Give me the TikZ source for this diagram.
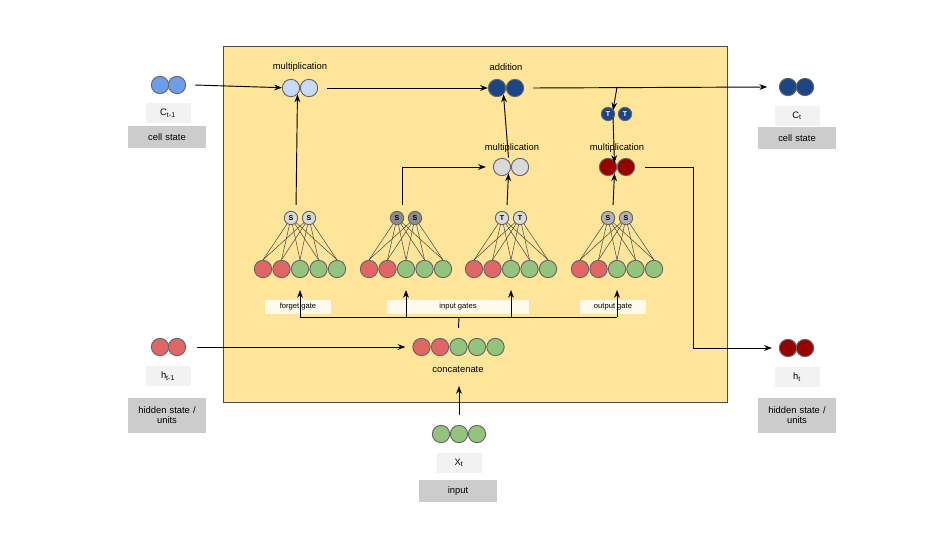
\documentclass[tikz,border=0pt]{standalone}
\usepackage{fontspec}
\setmainfont{Liberation Sans}
\usetikzlibrary{arrows.meta}
\definecolor{boxyellow}{HTML}{FFE599}
\definecolor{unitred}{HTML}{E06666}
\definecolor{unitgreen}{HTML}{93C47D}
\definecolor{lightblue}{HTML}{6D9EEB}
\definecolor{paleblue}{HTML}{C9DAF8}
\definecolor{darkblue}{HTML}{1C4587}
\definecolor{darkred}{HTML}{990000}
\begin{document}
\begin{tikzpicture}[x=0.03cm, y=-0.03cm, >=Stealth,
    unit/.style = {circle, draw=black!60, thick, inner sep=0pt, minimum size=0.52cm},
    small unit/.style = {circle, draw=black!60, thick, inner sep=0pt, minimum size=0.4cm, font=\fontsize{6}{6}\selectfont\bfseries},
    lbl/.style = {font=\fontsize{8}{9}\selectfont},
    tag/.style = {fill=black!5, minimum width=1.35cm, minimum height=0.62cm, font=\fontsize{8}{9}\selectfont},
    caption/.style = {fill=black!20, text width=2.1cm, align=center, minimum height=0.66cm, font=\fontsize{8}{9}\selectfont},
    gatetag/.style = {fill=white!80!boxyellow, minimum height=0.36cm, font=\fontsize{6.5}{7}\selectfont},
    arr/.style = {->, thick}
]
    \useasboundingbox (0,0) rectangle (930,535);
    \fill[boxyellow] (223,46) rectangle (727,402);
    \draw[black!70, thick] (223,46) rectangle (727,402);

    % cell state in
    \node[unit, fill=lightblue] (cp1) at (160,85) {};
    \node[unit, fill=lightblue] (cp2) at (177,85) {};
    \node[tag] (cplbl) at (168,113) {C\textsubscript{t-1}};
    \node[caption] (cpcap) at (167,137) {cell state};

    % hidden state in
    \node[unit, fill=unitred] (hp1) at (160,347) {};
    \node[unit, fill=unitred] (hp2) at (177,347) {};
    \node[tag] (hplbl) at (168,376) {h\textsubscript{t-1}};
    \node[caption, minimum height=1.05cm] (hpcap) at (167,415) {hidden state /\\units};

    % input
    \node[unit, fill=unitgreen] (x1) at (441,434) {};
    \node[unit, fill=unitgreen] (x2) at (459,434) {};
    \node[unit, fill=unitgreen] (x3) at (477,434) {};
    \node[tag] (xlbl) at (459,463) {X\textsubscript{t}};
    \node[caption] (xcap) at (458,491) {input};

    % outputs
    \node[unit, fill=darkblue] (c1) at (788,87) {};
    \node[unit, fill=darkblue] (c2) at (805,87) {};
    \node[tag] (clbl) at (797,116) {C\textsubscript{t}};
    \node[caption] (ccap) at (797,138) {cell state};
    \node[unit, fill=darkred] (h1) at (788,348) {};
    \node[unit, fill=darkred] (h2) at (805,348) {};
    \node[tag] (hlbl) at (797,377) {h\textsubscript{t}};
    \node[caption, minimum height=1.05cm] (hcap) at (797,415) {hidden state /\\units};

    % concatenation
    \foreach \i/\c in {1/unitred,2/unitred,3/unitgreen,4/unitgreen,5/unitgreen}
        \node[unit, fill=\c] (cat\i) at ({403+18.5*\i},347) {};
    \node[lbl] (catlbl) at (458,370) {concatenate};

    % gates
    \foreach \g/\cx/\sym/\shade in {f/300/S/black!15, i/406/S/black!45, t/511/T/black!15, o/617/S/black!30} {
        \foreach \i/\c in {1/unitred,2/unitred,3/unitgreen,4/unitgreen,5/unitgreen}
            \node[unit, fill=\c] (\g b\i) at ({\cx+18.5*(\i-3)},269) {};
        \node[small unit, fill=\shade] (\g s1) at ({\cx-9},218) {\sym};
        \node[small unit, fill=\shade] (\g s2) at ({\cx+9},218) {\sym};
        \foreach \s in {1,2}
            \foreach \i in {1,...,5}
                \draw[black!75] (\g s\s) -- (\g b\i.north);
        \coordinate (\g in) at (\cx,317);
    }
    \node[gatetag, minimum width=2cm] (ftag) at (298,307) {forget gate};
    \node[gatetag, minimum width=4.25cm] (itag) at (458,307) {input gates};
    \node[gatetag, minimum width=2cm] (otag) at (613,307) {output gate};

    % pointwise operations
    \node[unit, fill=paleblue] (m1) at (291,88) {};
    \node[unit, fill=paleblue] (m2) at (309,88) {};
    \node[lbl] at (300,67) {multiplication};
    \node[unit, fill=darkblue] (a1) at (497,88) {};
    \node[unit, fill=darkblue] (a2) at (515,88) {};
    \node[lbl] at (506,67) {addition};
    \node[unit, fill=black!15] (g1) at (502,167) {};
    \node[unit, fill=black!15] (g2) at (520,167) {};
    \node[lbl] at (512,148) {multiplication};
    \node[unit, fill=darkred] (r1) at (608,167) {};
    \node[unit, fill=darkred] (r2) at (626,167) {};
    \node[lbl] at (617,148) {multiplication};
    \node[small unit, fill=darkblue, text=white] (tt1) at (608,114) {T};
    \node[small unit, fill=darkblue, text=white] (tt2) at (625,114) {T};

    % connections
    \draw[arr] (cp2) ++(18,0) -- (m1);
    \draw[arr] (m2) ++(18,0) -- (a1);
    \draw[arr] (a2) ++(18,0) -- ([xshift=-10]c1.west);
    \draw[arr] (617,87) -- ([yshift=-1]tt1.north east);
    \draw[arr] ([yshift=1]tt1.south east) -- ([yshift=-2]r1.north east);
    \draw[arr] (hp2) ++(20,0) -- ([xshift=-6]cat1.west);
    \draw[arr] (x2.north) ++(0,-10) -- (459,386);
    \draw[thick] (cat3.north) ++(0,-10) -- (459,317);
    \draw[thick] (fin) -- (oin);
    \foreach \g in {f,i,t,o}
        \draw[arr] (\g in) -- ++(0,-27);
    \draw[arr] (fs1.north east) ++(0,-8) -- (m1.south east);
    \draw[arr] (is1.north east) ++(0,-8) |- ([xshift=-6]g1.west);
    \draw[arr] (ts1.north east) ++(0,-8) -- (g1.south east);
    \draw[arr] (os1.north east) ++(0,-8) -- (r1.south east);
    \draw[arr] (g1.north east) ++(0,-3) -- (a1.south east);
    \draw[arr] (r2) ++(19,0) -| (693,348) -- ([xshift=-6]h1.west);
\end{tikzpicture}
\end{document}
